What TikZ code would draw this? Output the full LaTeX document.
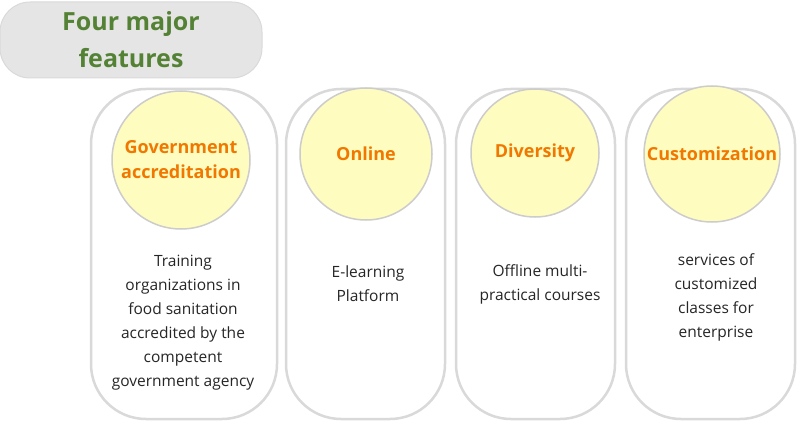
\documentclass[tikz,border=0pt]{standalone}
\usepackage{fontspec}
\setmainfont{Open Sans}
\definecolor{ttl}{HTML}{548235}
\definecolor{org}{HTML}{F07800}
\begin{document}
\begin{tikzpicture}[x=1pt,y=-1pt,
 card/.style={draw=black!15,line width=2.5pt,rounded corners=55pt,fill=white},
 circ/.style={circle,draw=black!20,line width=1.5pt,fill=yellow!25,inner sep=0pt,align=center,
   font=\fontsize{18}{25}\selectfont\bfseries,text=org},
 body/.style={align=center,font=\fontsize{15.5}{24}\selectfont,text=black!85}]
\useasboundingbox (0,0) rectangle (800,422);
\node[draw=black!15,line width=1pt,fill=black!10,rounded corners=30pt,minimum width=262pt,minimum height=76pt,
  align=center,font=\fontsize{25}{37}\selectfont\bfseries,text=ttl] (title) at (131,40) {Four major\\features};
\draw[card] (91,89) rectangle (277,419);
\draw[card] (286,89) rectangle (445,419);
\draw[card] (456,89) rectangle (615,419);
\draw[card] (626,89) rectangle (795,419);
\node[circ,minimum size=138pt] (c1) at (181,160) {Government\\accreditation};
\node[circ,minimum size=132pt] (c2) at (366,154) {Online};
\node[circ,minimum size=128pt] (c3) at (535,153) {Diversity};
\node[circ,minimum size=136pt] (c4) at (712,154) {Customization};
\node[body] (t1) at (183,323) {Training\\organizations in\\food sanitation\\accredited by the\\competent\\government agency};
\node[body] (t2) at (368,284) {E-learning\\Platform};
\node[body] (t3) at (540,284) {Offline multi-\\practical courses};
\node[body] (t4) at (716,297) {services of\\customized\\classes for\\enterprise};
\end{tikzpicture}
\end{document}
